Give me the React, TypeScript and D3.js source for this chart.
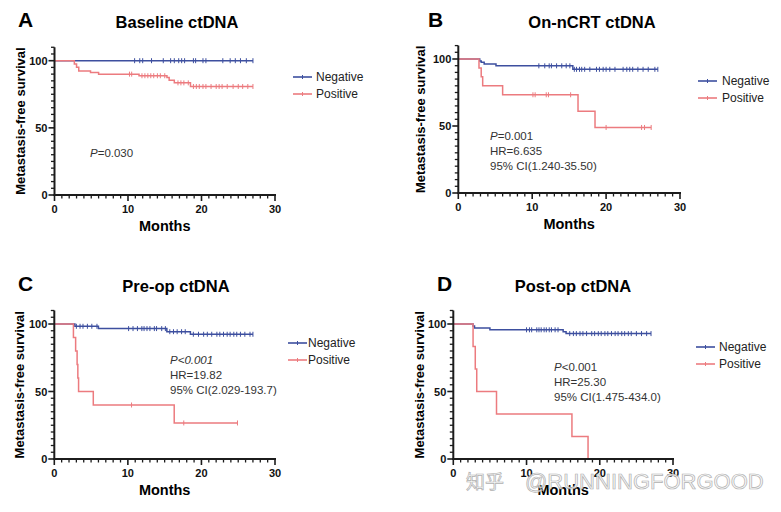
import React from 'react';
import * as d3 from 'd3';

type Step = [number, number];

// ---- Baseline ctDNA ----
const baselineNegSteps: Step[] = [];
const baselineNegEnd = 27;
const baselineNegCensored = [10.9, 11.6, 12.0, 13.2, 14.8, 15.8, 16.3, 16.9, 17.3, 17.7, 18.9, 19.2, 20.2, 20.6, 22.9, 23.9, 24.6, 25.3, 26.1, 27.0];
const baselinePosSteps: Step[] = [[2.7, 97.6], [3.0, 95.2], [3.3, 92.3], [4.9, 91.2], [6.0, 90.0], [11.5, 88.8], [15.3, 87.5], [15.6, 85.4], [16.3, 83.5], [18.5, 80.8]];
const baselinePosEnd = 27;
const baselinePosCensored = [10.2, 10.5, 11.9, 12.3, 12.7, 13.1, 13.5, 14.0, 14.4, 15.0, 16.8, 17.2, 17.6, 18.2, 18.9, 19.3, 19.7, 20.2, 20.6, 21.3, 22.0, 22.4, 22.8, 23.5, 24.3, 25.0, 25.6, 26.3, 27.0];

// ---- On-nCRT ctDNA ----
const onNcrtNegSteps: Step[] = [[2.9, 98.5], [3.1, 97.5], [3.5, 96.2], [5.1, 94.9], [15.5, 92.3]];
const onNcrtNegEnd = 27;
const onNcrtNegCensored = [10.9, 11.7, 12.3, 12.6, 13.3, 14.0, 14.6, 15.1, 15.7, 16.0, 16.4, 16.7, 17.1, 17.8, 18.7, 19.1, 19.6, 20.0, 20.5, 21.2, 22.3, 22.8, 23.2, 23.6, 24.3, 25.0, 25.7, 26.6, 27.0];
const onNcrtPosSteps: Step[] = [[2.8, 93.3], [3.1, 86.7], [3.3, 80.0], [6.0, 73.3], [16.2, 61.1], [18.5, 48.9]];
const onNcrtPosEnd = 26.1;
const onNcrtPosCensored = [10.1, 10.4, 11.9, 12.2, 15.2, 20.0, 24.8, 25.2, 26.1];

// ---- Pre-op ctDNA ----
const preOpNegSteps: Step[] = [[2.8, 98.3], [6.0, 96.6], [15.3, 94.3], [18.5, 92.4]];
const preOpNegEnd = 27;
const preOpNegCensored = [3.0, 3.5, 3.9, 4.5, 5.1, 5.8, 10.1, 10.7, 11.3, 11.9, 12.2, 12.6, 13.0, 13.6, 13.9, 14.6, 15.1, 15.7, 16.2, 16.7, 17.3, 17.8, 18.9, 19.6, 20.3, 20.8, 21.4, 22.1, 22.5, 23.0, 23.5, 23.9, 24.4, 24.8, 25.3, 25.9, 26.6, 27.0];
const preOpPosSteps: Step[] = [[2.6, 90], [2.9, 80], [3.1, 70], [3.2, 60], [3.3, 50], [5.3, 40], [16.3, 26.7]];
const preOpPosEnd = 24.9;
const preOpPosCensored = [10.5, 17.6, 24.9];

// ---- Post-op ctDNA ----
const postOpNegSteps: Step[] = [[2.7, 98.5], [2.9, 97.1], [5.0, 95.7], [15.0, 94.3], [15.4, 92.9]];
const postOpNegEnd = 27;
const postOpNegCensored = [10.0, 10.4, 10.7, 11.4, 11.7, 12.0, 12.4, 12.7, 13.1, 13.4, 13.9, 14.3, 15.9, 16.4, 16.8, 17.3, 17.7, 18.2, 18.9, 19.3, 19.8, 20.2, 20.7, 21.1, 21.6, 22.1, 22.5, 23.0, 23.4, 23.9, 24.3, 25.0, 25.7, 26.4, 27.0];
const postOpPosSteps: Step[] = [[2.7, 83.3], [3.0, 66.7], [3.2, 50.0], [5.9, 33.3], [16.2, 16.7], [18.4, 0]];
const postOpPosEnd = 18.4;
const postOpPosCensored: number[] = [];

const monthTicks = [0, 10, 20, 30];
const survivalTicks = [0, 50, 100];
const seriesNames = ['Negative', 'Positive'];

const NEG_COLOR = '#3d4f9f';
const POS_COLOR = '#ec7b7f';
const FONT = '"Liberation Sans", Arial, Helvetica, sans-serif';

interface Curve {
  steps: Step[];
  end: number;
  censored: number[];
  color: string;
}

interface Note {
  parts: { text: string; italic?: boolean }[];
}

interface PanelSpec {
  letter: string;
  title: string;
  letterX: number;
  titleX: number;
  titleY: number;
  x0: number;
  x1: number;
  yTop: number; // pixel of 100
  yBottom: number; // pixel of 0
  yLabelX: number;
  legendX: number;
  legendY: number;
  legendText: number;
  noteX: number;
  noteY: number;
  notes: Note[];
  curves: Curve[];
}

const panels: PanelSpec[] = [
  {
    letter: 'A', title: 'Baseline ctDNA', letterX: 18, titleX: 177, titleY: 28,
    x0: 54.5, x1: 275, yTop: 60.7, yBottom: 195, yLabelX: 20,
    legendX: 293, legendY: 77, legendText: 316,
    noteX: 90, noteY: 157,
    notes: [{ parts: [{ text: 'P', italic: true }, { text: '=0.030' }] }],
    curves: [
      { steps: baselineNegSteps, end: baselineNegEnd, censored: baselineNegCensored, color: NEG_COLOR },
      { steps: baselinePosSteps, end: baselinePosEnd, censored: baselinePosCensored, color: POS_COLOR },
    ],
  },
  {
    letter: 'B', title: 'On-nCRT ctDNA', letterX: 428, titleX: 592, titleY: 28,
    x0: 458.3, x1: 680, yTop: 59, yBottom: 193, yLabelX: 420,
    legendX: 698, legendY: 81, legendText: 722,
    noteX: 490, noteY: 140,
    notes: [
      { parts: [{ text: 'P', italic: true }, { text: '=0.001' }] },
      { parts: [{ text: 'HR=6.635' }] },
      { parts: [{ text: '95% CI(1.240-35.50)' }] },
    ],
    curves: [
      { steps: onNcrtNegSteps, end: onNcrtNegEnd, censored: onNcrtNegCensored, color: NEG_COLOR },
      { steps: onNcrtPosSteps, end: onNcrtPosEnd, censored: onNcrtPosCensored, color: POS_COLOR },
    ],
  },
  {
    letter: 'C', title: 'Pre-op ctDNA', letterX: 18, titleX: 176, titleY: 292,
    x0: 54.3, x1: 275, yTop: 324, yBottom: 459, yLabelX: 19,
    legendX: 288, legendY: 343, legendText: 308,
    noteX: 170, noteY: 364,
    notes: [
      { parts: [{ text: 'P<0.001', italic: true }] },
      { parts: [{ text: 'HR=19.82' }] },
      { parts: [{ text: '95% CI(2.029-193.7)' }] },
    ],
    curves: [
      { steps: preOpNegSteps, end: preOpNegEnd, censored: preOpNegCensored, color: NEG_COLOR },
      { steps: preOpPosSteps, end: preOpPosEnd, censored: preOpPosCensored, color: POS_COLOR },
    ],
  },
  {
    letter: 'D', title: 'Post-op ctDNA', letterX: 437, titleX: 573, titleY: 292,
    x0: 453.3, x1: 673, yTop: 324, yBottom: 459, yLabelX: 419,
    legendX: 696, legendY: 347, legendText: 719,
    noteX: 554, noteY: 371,
    notes: [
      { parts: [{ text: 'P', italic: true }, { text: '<0.001' }] },
      { parts: [{ text: 'HR=25.30' }] },
      { parts: [{ text: '95% CI(1.475-434.0)' }] },
    ],
    curves: [
      { steps: postOpNegSteps, end: postOpNegEnd, censored: postOpNegCensored, color: NEG_COLOR },
      { steps: postOpPosSteps, end: postOpPosEnd, censored: postOpPosCensored, color: POS_COLOR },
    ],
  },
];

function survivalAt(steps: Step[], t: number): number {
  let s = 100;
  for (const [time, v] of steps) {
    if (time <= t) s = v;
  }
  return s;
}

function stepPoints(curve: Curve): [number, number][] {
  const pts: [number, number][] = [[0, 100]];
  for (const [t, v] of curve.steps) {
    pts.push([t, v]);
  }
  pts.push([curve.end, survivalAt(curve.steps, curve.end)]);
  return pts;
}

const Panel: React.FC<{ p: PanelSpec }> = ({ p }) => {
  const x = d3.scaleLinear().domain([0, 30]).range([p.x0, p.x1]);
  const y = d3.scaleLinear().domain([0, 100]).range([p.yBottom, p.yTop]);
  const line = d3
    .line<[number, number]>()
    .x((d) => x(d[0]))
    .y((d) => y(d[1]))
    .curve(d3.curveStepAfter);

  const xMinor = d3.range(0, 31, 1);
  const yMinor = d3.range(0, 111, 5);
  const axisColor = '#1c1c1c';
  const noteGap = 15;

  return (
    <g>
      <text x={p.letterX} y={p.titleY - 1} fontFamily={FONT} fontWeight="bold" fontSize={21} fill="#000">
        {p.letter}
      </text>
      <text x={p.titleX} y={p.titleY} fontFamily={FONT} fontWeight="bold" fontSize={16.5} textAnchor="middle" fill="#000">
        {p.title}
      </text>

      {/* curves */}
      {p.curves.map((c, i) => (
        <g key={i}>
          <path d={line(stepPoints(c)) ?? ''} fill="none" stroke={c.color} strokeWidth={1.5} />
          {c.censored.map((t, j) => {
            const cy = y(survivalAt(c.steps, t));
            return <line key={j} x1={x(t)} x2={x(t)} y1={cy - 2.5} y2={cy + 2.5} stroke={c.color} strokeWidth={1} />;
          })}
        </g>
      ))}

      {/* y axis */}
      <line x1={p.x0} x2={p.x0} y1={y(110)} y2={p.yBottom + 1} stroke={axisColor} strokeWidth={2} />
      {yMinor.map((v) => {
        const major = survivalTicks.includes(v);
        return (
          <line key={v} x1={p.x0 - (major ? 6 : 3.5)} x2={p.x0} y1={y(v)} y2={y(v)} stroke={axisColor} strokeWidth={major ? 1.6 : 1.3} />
        );
      })}
      {survivalTicks.map((v) => (
        <text key={v} x={p.x0 - 7} y={y(v) + 4} textAnchor="end" fontFamily={FONT} fontWeight="bold" fontSize={11} fill="#111">
          {v}
        </text>
      ))}

      {/* x axis */}
      <line x1={p.x0 - 1} x2={p.x1 + 1} y1={p.yBottom} y2={p.yBottom} stroke={axisColor} strokeWidth={2} />
      {xMinor.map((v) => {
        const major = monthTicks.includes(v);
        return (
          <line key={v} x1={x(v)} x2={x(v)} y1={p.yBottom} y2={p.yBottom + (major ? 6 : 3.5)} stroke={axisColor} strokeWidth={major ? 1.6 : 1.3} />
        );
      })}
      {monthTicks.map((v) => (
        <text key={v} x={x(v)} y={p.yBottom + 18} textAnchor="middle" fontFamily={FONT} fontWeight="bold" fontSize={11} fill="#111">
          {v}
        </text>
      ))}

      <text x={(p.x0 + p.x1) / 2} y={p.yBottom + 36} textAnchor="middle" fontFamily={FONT} fontWeight="bold" fontSize={14.5} fill="#000">
        Months
      </text>
      <text
        transform={`translate(${p.yLabelX + 5},${(y(110) + p.yBottom) / 2}) rotate(-90)`}
        textAnchor="middle"
        fontFamily={FONT}
        fontWeight="bold"
        fontSize={13}
        fill="#000"
      >
        Metastasis-free survival
      </text>

      {/* legend */}
      {seriesNames.map((name, i) => {
        const ly = p.legendY + i * 17;
        const color = p.curves[i].color;
        return (
          <g key={name}>
            <line x1={p.legendX} x2={p.legendX + 19} y1={ly} y2={ly} stroke={color} strokeWidth={1.6} />
            <line x1={p.legendX + 9.5} x2={p.legendX + 9.5} y1={ly - 2} y2={ly + 2} stroke={color} strokeWidth={1} />
            <text x={p.legendText} y={ly + 4} fontFamily={FONT} fontSize={12} fill="#222">
              {name}
            </text>
          </g>
        );
      })}

      {/* statistics */}
      {p.notes.map((n, i) => (
        <text key={i} x={p.noteX} y={p.noteY + i * noteGap} fontFamily={FONT} fontSize={11.5} fill="#333">
          {n.parts.map((part, k) => (
            <tspan key={k} fontStyle={part.italic ? 'italic' : 'normal'}>
              {part.text}
            </tspan>
          ))}
        </text>
      ))}
    </g>
  );
};

export default function App() {
  return (
    <svg
      width={781}
      height={512}
      viewBox="0 0 781 512"
      style={{ position: 'absolute', left: 0, top: 0, background: '#fff' }}
    >
      <rect width={781} height={512} fill="#fff" />
      {panels.map((p) => (
        <Panel key={p.letter} p={p} />
      ))}
      <g opacity={0.9}>
        <text x={466} y={489} fontFamily='"Noto Sans CJK SC", sans-serif' fontSize={19} fill="#fafafa" stroke="#a8a8a8" strokeWidth={0.7}>
          知乎
        </text>
        <text x={525} y={489} fontFamily={FONT} fontSize={22} fill="#fafafa" stroke="#a8a8a8" strokeWidth={0.7}>
          @RUNNINGFORGOOD
        </text>
      </g>
    </svg>
  );
}
